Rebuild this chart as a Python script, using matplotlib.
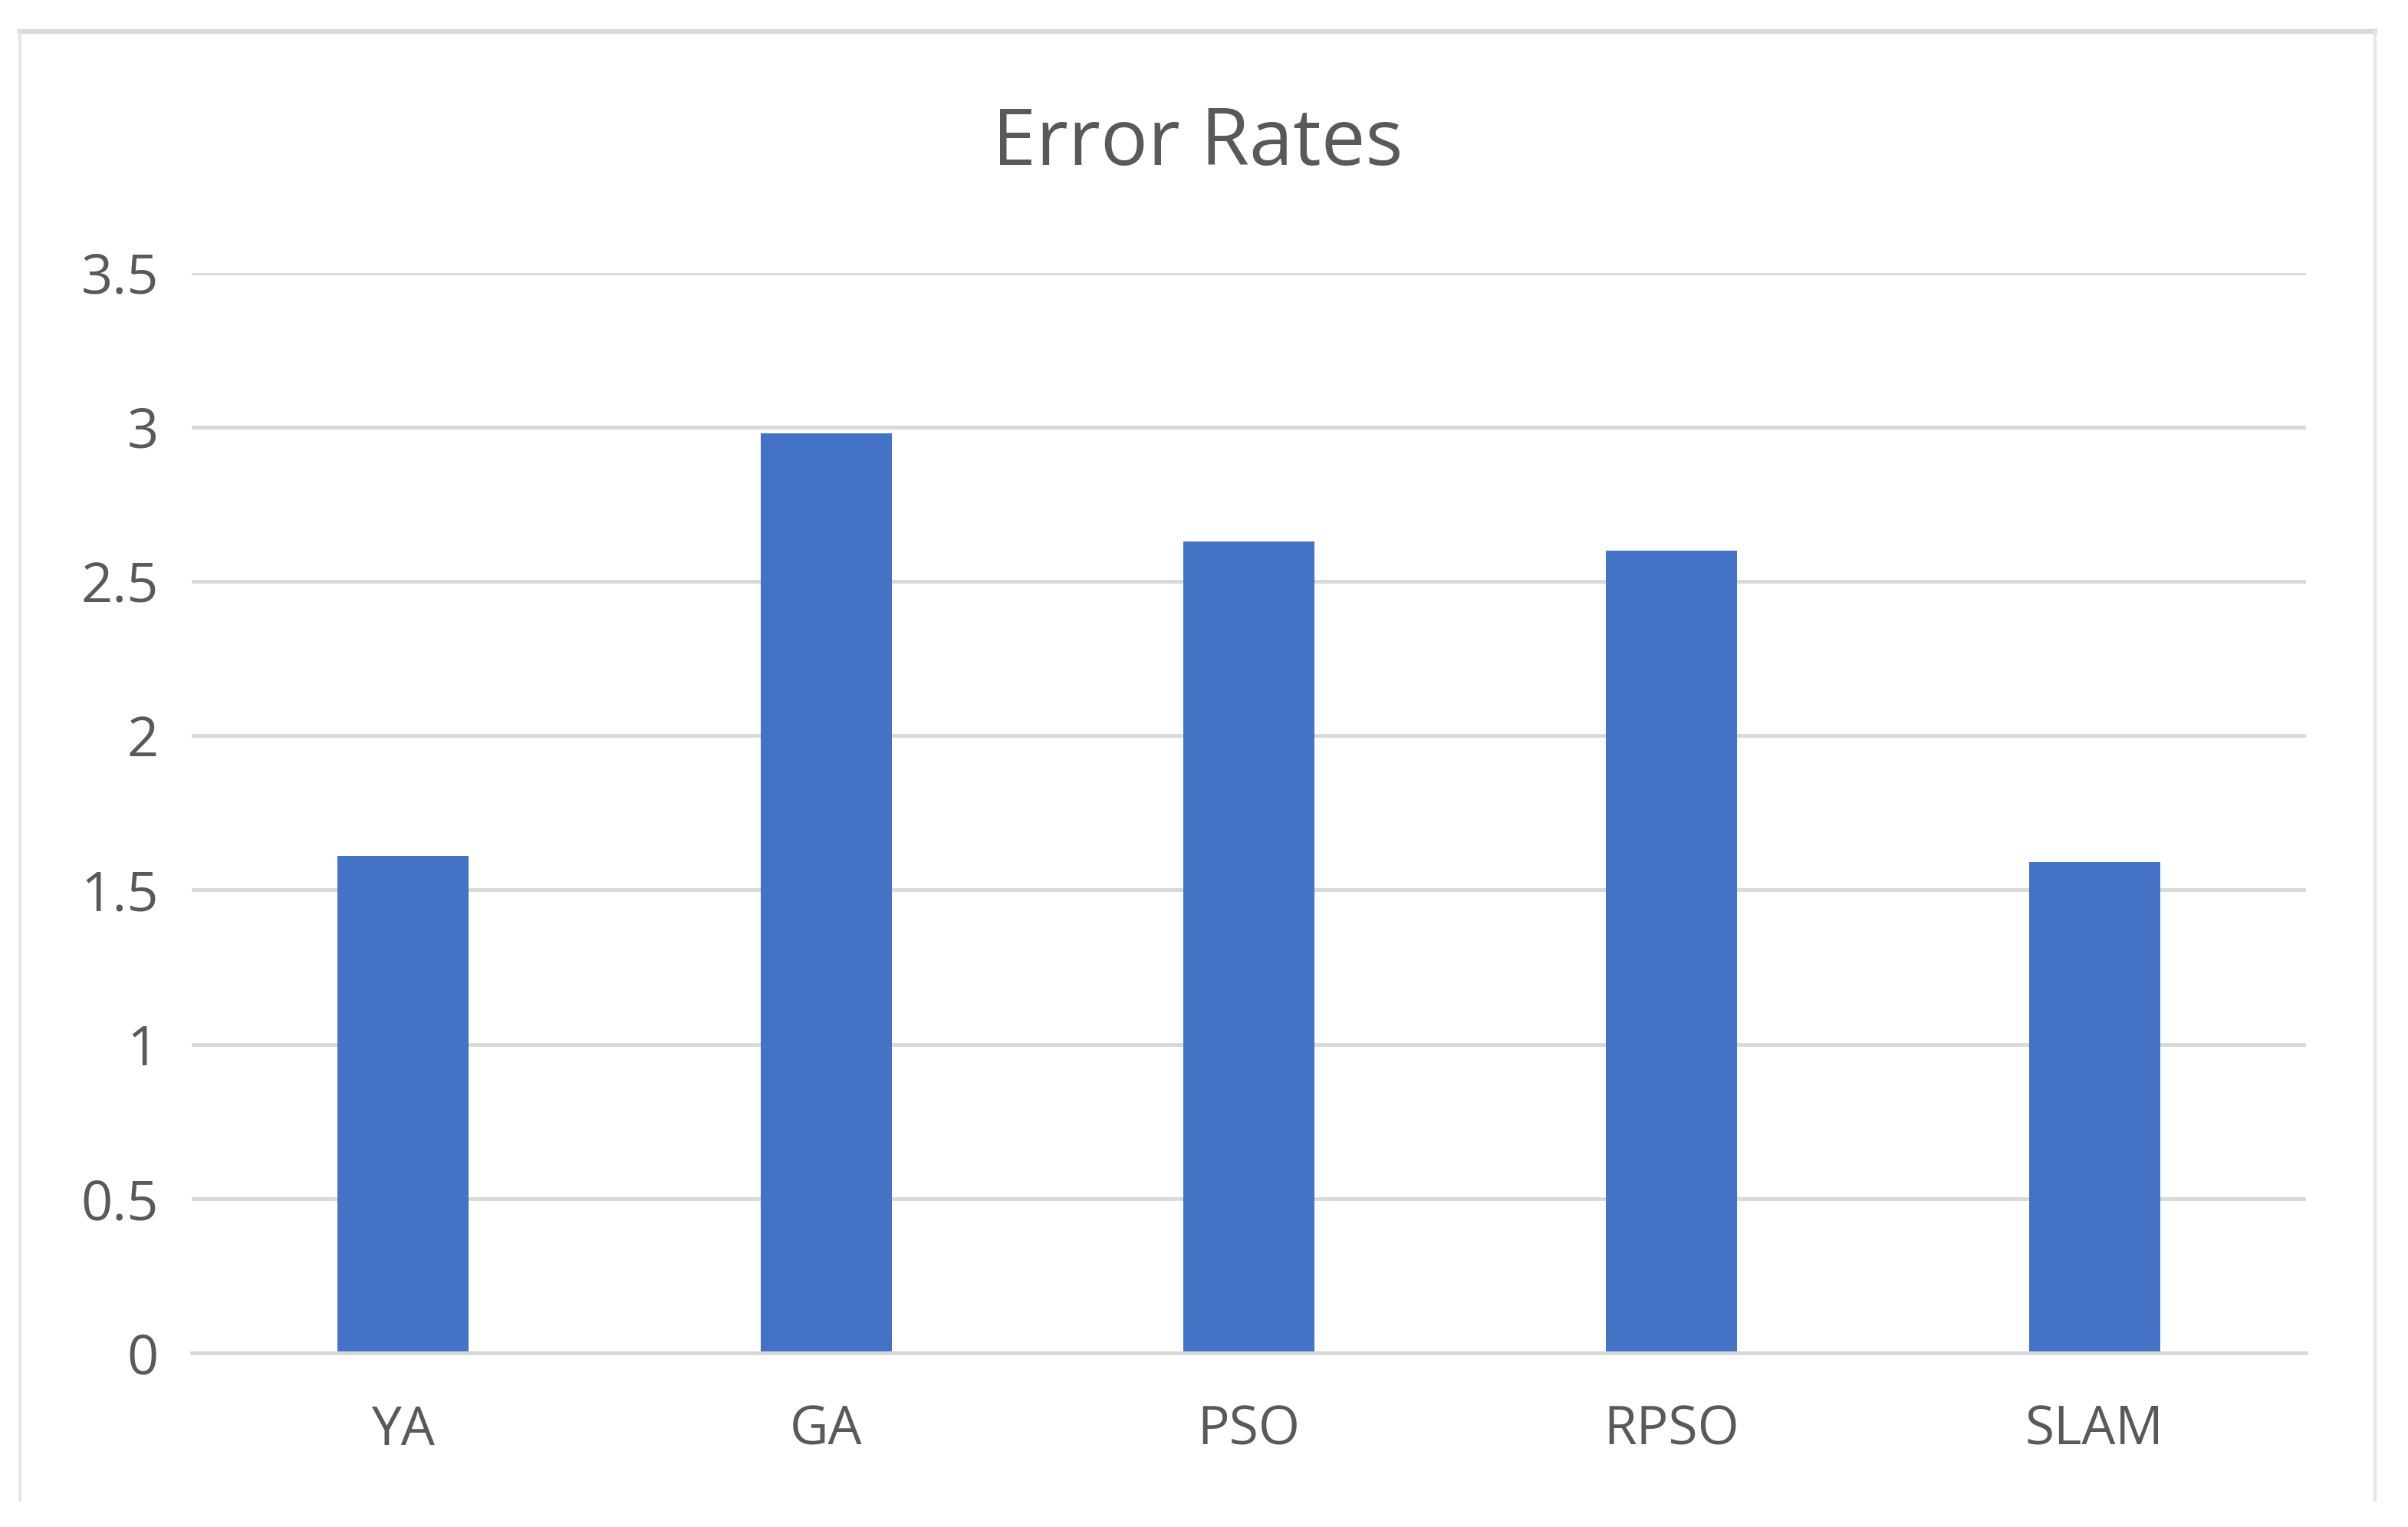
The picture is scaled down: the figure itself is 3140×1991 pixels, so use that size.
import matplotlib
matplotlib.use("Agg")
import matplotlib.pyplot as plt
from matplotlib.lines import Line2D

categories = ["YA", "GA", "PSO", "RPSO", "SLAM"]
error_rates = [1.61, 2.98, 2.63, 2.60, 1.59]
y_ticks = [0, 0.5, 1, 1.5, 2, 2.5, 3, 3.5]
y_tick_labels = ["0", "0.5", "1", "1.5", "2", "2.5", "3", "3.5"]
title = "Error Rates"

W, H = 3140, 1991
dpi = 100
plt.rcParams['font.family'] = ['Open Sans', 'DejaVu Sans']
fig = plt.figure(figsize=(W / dpi, H / dpi), dpi=dpi)
fig.patch.set_facecolor("white")

# axes placement in pixel coordinates
x0, x1 = 250, 3007
y_top, y_bot = 355.5, 1764
ax = fig.add_axes([x0 / W, 1 - y_bot / H, (x1 - x0) / W, (y_bot - y_top) / H])

text_color = "#595959"
grid_color = "#D9D9D9"

ax.bar(range(len(categories)), error_rates, width=0.31, color="#4472C4", zorder=3)
ax.set_xlim(-0.5, len(categories) - 0.5)
ax.set_ylim(0, 3.5)
ax.set_yticks(y_ticks)
ax.set_yticklabels(y_tick_labels)
ax.set_xticks(range(len(categories)))
ax.set_xticklabels(categories)

ax.yaxis.grid(True, color=grid_color, linewidth=3.5, zorder=0)
ax.set_axisbelow(True)
for s in ["top", "right", "left"]:
    ax.spines[s].set_visible(False)
ax.spines["bottom"].set_color(grid_color)
ax.spines["bottom"].set_linewidth(3.5)
ax.spines["bottom"].set_zorder(4)

ax.tick_params(axis="y", length=0, pad=31, labelsize=52, labelcolor=text_color)
ax.tick_params(axis="x", length=0, pad=48, labelsize=50, labelcolor=text_color)

fig.text(1562 / W, 1 - 188 / H, title, ha="center", va="center",
         fontsize=74, color=text_color)

# outer chart frame (top, left, right)
fc = "#D9D9D9"
lw = 4.5
fig.add_artist(Line2D([26 / W, 3097 / W], [1 - 41 / H, 1 - 41 / H], color=fc, lw=lw, transform=fig.transFigure))
fig.add_artist(Line2D([26 / W, 26 / W], [1 - 41 / H, 1 - 1956 / H], color="#E6E6E6", lw=3, transform=fig.transFigure))
fig.add_artist(Line2D([3097 / W, 3097 / W], [1 - 41 / H, 1 - 1956 / H], color="#E6E6E6", lw=3, transform=fig.transFigure))

fig.savefig("out.png", dpi=dpi, facecolor="white")
